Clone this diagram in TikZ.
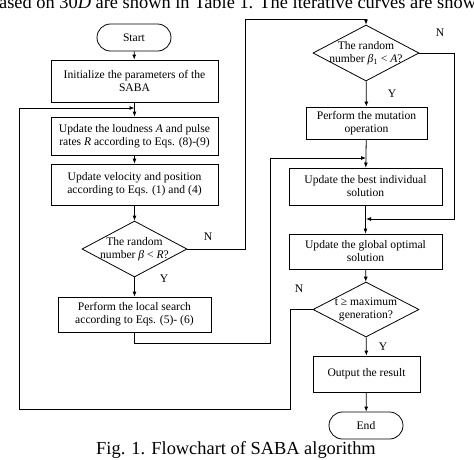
\documentclass[tikz,border=0pt]{standalone}
\usepackage{fontspec}
\setmainfont{Liberation Serif}
\usetikzlibrary{shapes.geometric,arrows.meta}
\newcommand\boxfont{\fontsize{11.6}{13}\selectfont}
\newcommand\bigfont{\fontsize{18.4}{20}\selectfont}
\begin{document}
\begin{tikzpicture}[x=1pt,y=-1pt,
  every path/.style={line width=0.8pt},
  box/.style={draw, line width=0.8pt, inner sep=0pt, align=center, font=\boxfont},
  term/.style={box, rounded corners=13.5pt, minimum width=74pt, minimum height=27pt},
  dia/.style={draw, line width=0.8pt, diamond, inner sep=0pt},
  lab/.style={inner sep=0pt, align=center, font=\boxfont},
  arr/.style={-{Latex[length=5pt,width=4pt]}},
]
\useasboundingbox (0,0) rectangle (474,459);
% cut-off text line from the page
\node[anchor=base west, inner sep=0pt, font=\bigfont] (toptext) at (-10.5,8) {based on 30\textit{D} are shown in Table 1. The iterative curves are shown};
% left column
\node[term] (start) at (134,37.5) {Start};
\node[box, minimum width=167pt, minimum height=42pt] (init) at (134.5,81) {Initialize the parameters of the\\SABA};
\node[box, minimum width=167pt, minimum height=38pt] (loud) at (134.5,136) {Update the loudness \textit{A} and pulse\\rates \textit{R} according to Eqs. (8)-(9)};
\node[box, minimum width=167pt, minimum height=41pt] (vel) at (134.5,184.5) {Update velocity and position\\according to Eqs. (1) and (4)};
\node[dia, minimum width=105pt, minimum height=56pt] (d1) at (134.5,249) {};
\node[lab] (d1t) at (d1) {The random\\number \textit{β} < \textit{R}?};
\node[box, minimum width=153pt, minimum height=35pt] (ls) at (134.5,314.5) {Perform the local search\\according to Eqs. (5)- (6)};
% right column
\node[dia, minimum width=106pt, minimum height=56pt] (d2) at (366,53) {};
\node[lab] (d2t) at (d2) {The random\\number \textit{β}\textsubscript{1} < \textit{A}?};
\node[box, minimum width=121pt, minimum height=32pt] (mut) at (366.5,123) {Perform the mutation\\operation};
\node[box, minimum width=153pt, minimum height=37pt] (best) at (365.5,186.5) {Update the best individual\\solution};
\node[box, minimum width=153pt, minimum height=35pt] (glob) at (365.5,251.5) {Update the global optimal\\solution};
\node[dia, minimum width=106pt, minimum height=55pt] (d3) at (366,309.5) {};
\node[lab] (d3t) at (d3) {t ≥ maximum\\generation?};
\node[box, minimum width=107pt, minimum height=36pt] (out) at (366.5,374) {Output the result};
\node[term] (end) at (366,425.5) {End};
% labels
\node[lab] (n1) at (208,237) {N};
\node[lab] (y1) at (164,279) {Y};
\node[lab] (n2) at (440,33) {N};
\node[lab] (y2) at (392,94) {Y};
\node[lab] (n3) at (299,289) {N};
\node[lab] (y3) at (383,347) {Y};
% caption
\node[anchor=base, inner sep=0pt, font=\bigfont] (cap) at (236,454) {Fig. 1. Flowchart of SABA algorithm};
% helper coordinates
\coordinate (j1) at (134.5,108);
\coordinate (j2) at (366,158);
\coordinate (j3) at (366,219);
\coordinate (c1) at (245,19);
\coordinate (c2) at (270,343);
\coordinate (c3) at (290,409);
\coordinate (c4) at (454,219);
\coordinate (c5) at (19,108);
% straight flow
\draw[arr] (start) -- (init);
\draw[arr] (init) -- (loud);
\draw[arr] (loud) -- (vel);
\draw[arr] (vel) -- (d1);
\draw[arr] (d1) -- (ls);
\draw[arr] (d2) -- (mut);
\draw[arr] (mut) -- (best);
\draw[arr] (best) -- (glob);
\draw[arr] (glob) -- (d3);
\draw[arr] (d3) -- (out);
\draw[arr] (out) -- (end);
% loops
\draw[arr] (d1.east) -| (c1) -| (d2.north);
\draw[arr] (ls.south) |- (c2) |- (j2);
\draw[arr] (d2.east) -| (c4) -- (j3);
\draw[arr] (d3.west) -| (c3) -| (c5) -- (j1);
\end{tikzpicture}
\end{document}
